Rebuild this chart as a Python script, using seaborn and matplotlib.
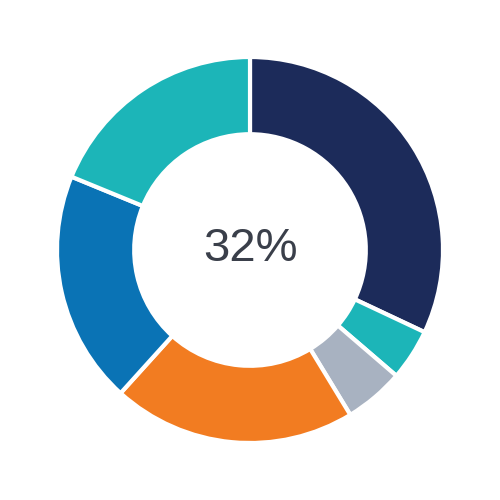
import matplotlib
matplotlib.use("Agg")
import matplotlib.pyplot as plt
import seaborn as sns

# Slice shares, clockwise from 12 o'clock
labels = ['Navy', 'Teal small', 'Gray', 'Orange', 'Blue', 'Teal']
values = [32, 4.3, 5, 20.4, 19.5, 18.8]
colors = ['#1c2b5a', '#1cb5b8', '#a8b2c1', '#f27c21', '#0a73b5', '#1cb5b8']
center_text = '32%'

sns.set_theme(style='white')
plt.rcParams['font.family'] = ['Liberation Sans', 'DejaVu Sans']

fig = plt.figure(figsize=(5, 5), dpi=100)
ax = fig.add_axes([0, 0, 1, 1])

ax.pie(values, colors=colors, startangle=90, counterclock=False,
       radius=1.0,
       wedgeprops=dict(width=0.4, edgecolor='white', linewidth=3))

ax.text(0, 0.005, center_text, ha='center', va='center',
        fontsize=34, color='#3a3f4a')

lim = 250 / 193
ax.set_xlim(-lim, lim)
ax.set_ylim(-lim, lim)
ax.set_aspect('equal')
ax.axis('off')

fig.savefig('out.png', dpi=100, facecolor='white')
